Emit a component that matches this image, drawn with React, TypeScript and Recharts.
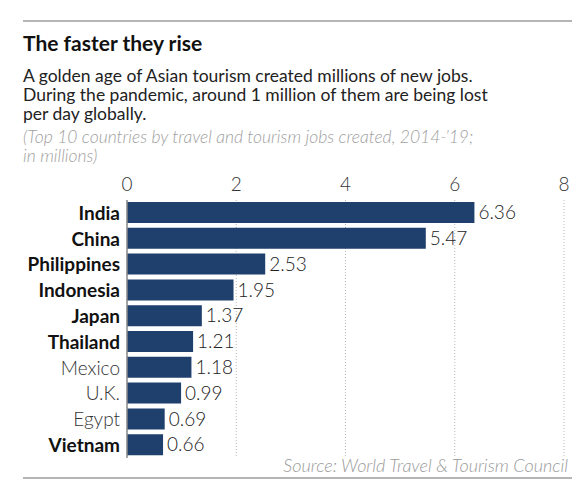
import { BarChart, Bar, XAxis, YAxis, CartesianGrid, LabelList } from 'recharts';

const countries = ['India', 'China', 'Philippines', 'Indonesia', 'Japan', 'Thailand', 'Mexico', 'U.K.', 'Egypt', 'Vietnam'];
const jobs = [6.36, 5.47, 2.53, 1.95, 1.37, 1.21, 1.18, 0.99, 0.69, 0.66];
const asianCountries = ['India', 'China', 'Philippines', 'Indonesia', 'Japan', 'Thailand', 'Vietnam'];
const xTicks = [0, 2, 4, 6, 8];

const subtitleLines = [
  'A golden age of Asian tourism created millions of new jobs.',
  'During the pandemic, around 1 million of them are being lost',
  'per day globally.',
];
const noteLines = ['(Top 10 countries by travel and tourism jobs created, 2014-’19;', 'in millions)'];

const data = countries.map((name, i) => ({ name, jobs: jobs[i] }));

const font = 'Lato, "Open Sans", sans-serif';

function CountryTick(props: any) {
  const { x, y, payload } = props;
  const bold = asianCountries.includes(payload.value);
  return (
    <text
      x={x}
      y={y}
      dy="0.36em"
      textAnchor="end"
      fontSize={19}
      fontFamily={font}
      fontWeight={bold ? 700 : 300}
      fill={bold ? '#111' : '#333'}
    >
      {payload.value}
    </text>
  );
}

export default function App() {
  return (
    <div style={{ position: 'absolute', left: 0, top: 0, width: 572, height: 481, background: '#fff', fontFamily: font, overflow: 'hidden' }}>
      <div style={{ position: 'absolute', left: 23, right: 0, top: 20, borderTop: '2px solid #b5b5b5' }} />
      <div style={{ position: 'absolute', left: 23, top: 31, fontSize: 21, fontWeight: 700, color: '#111', lineHeight: '24px' }}>
        The faster they rise
      </div>
      {subtitleLines.map((line, i) => (
        <div key={line} style={{ position: 'absolute', left: 23, top: 65.5 + i * 19, fontSize: 17.5, color: '#222', lineHeight: '19px', whiteSpace: 'nowrap' }}>
          {line}
        </div>
      ))}
      {noteLines.map((line, i) => (
        <div key={line} style={{ position: 'absolute', left: 23, top: 126.5 + i * 19.5, fontSize: 17.5, fontWeight: 300, fontStyle: 'italic', color: '#a0a0a0', lineHeight: '19.5px', whiteSpace: 'nowrap' }}>
          {line}
        </div>
      ))}

      <div style={{ position: 'absolute', left: 0, top: 0 }}>
        <BarChart
          width={572}
          height={481}
          data={data}
          layout="vertical"
          margin={{ top: 170, right: 8, bottom: 23, left: 0 }}
        >
          <CartesianGrid horizontal={false} vertical stroke="#b8b8b8" strokeDasharray="1 2" />
          <XAxis
            type="number"
            orientation="top"
            domain={[0, 8]}
            ticks={xTicks}
            axisLine={false}
            tickLine={false}
            tickSize={0}
            tickMargin={9}
            height={30}
            tick={{ fontSize: 19, fill: '#333', fontFamily: font, fontWeight: 300 }}
          />
          <YAxis
            type="category"
            dataKey="name"
            width={127}
            axisLine={{ stroke: '#8a8a8a', strokeWidth: 1.5 }}
            tickLine={false}
            tickSize={0}
            tickMargin={7}
            tick={<CountryTick />}
            interval={0}
          />
          <Bar dataKey="jobs" fill="#1f3f6d" barSize={21} isAnimationActive={false}>
            <LabelList dataKey="jobs" position="right" offset={4} fontSize={19} fill="#222" fontFamily={font} fontWeight={300} />
          </Bar>
        </BarChart>
      </div>

      <div style={{ position: 'absolute', right: 4, top: 456, fontSize: 18, fontWeight: 300, fontStyle: 'italic', color: '#9a9a9a', lineHeight: '18px', whiteSpace: 'nowrap' }}>
        Source: World Travel &amp; Tourism Council
      </div>
      <div style={{ position: 'absolute', left: 23, right: 0, top: 477, borderTop: '2px solid #b5b5b5' }} />
    </div>
  );
}
